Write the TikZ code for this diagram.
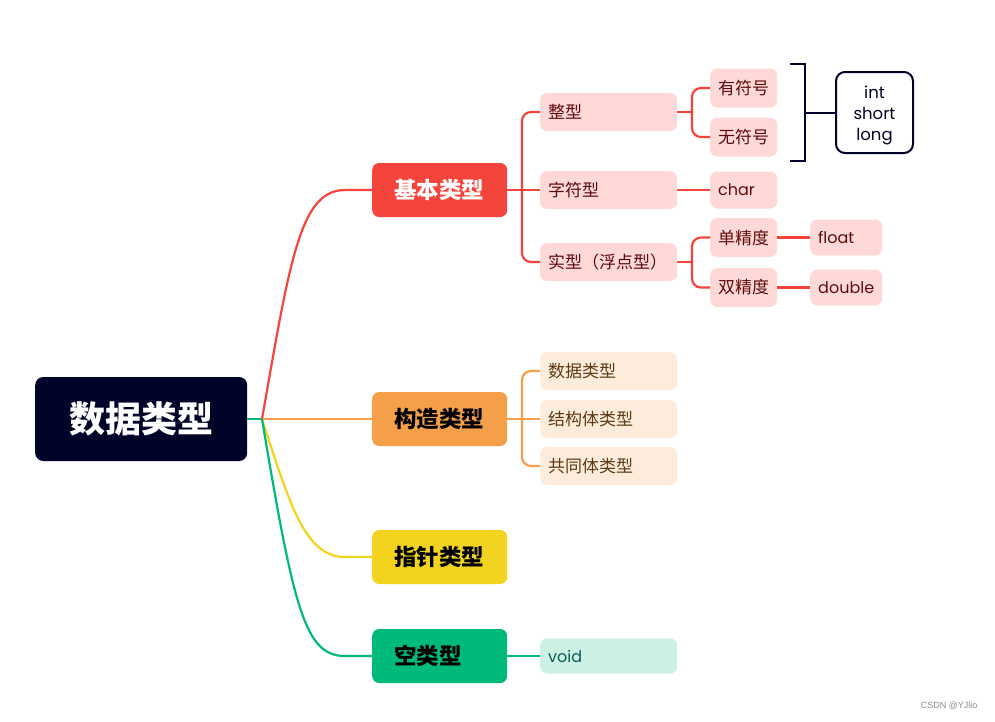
\documentclass[tikz,border=0pt]{standalone}
\usepackage{fontspec}
\setmainfont{Noto Sans CJK SC}
\newfontfamily\lat{Poppins}
\newfontfamily\wmfont{Liberation Sans}
\definecolor{navy}{HTML}{020328}
\definecolor{cred}{HTML}{F5443C}
\definecolor{corange}{HTML}{F59F4B}
\definecolor{cyellow}{HTML}{F2D31F}
\definecolor{cgreen}{HTML}{00BA7B}
\definecolor{fpink}{HTML}{FFD9D8}
\definecolor{fpeach}{HTML}{FDEBDC}
\definecolor{fmint}{HTML}{CCF1E4}
\definecolor{tred}{HTML}{5E0B0B}
\definecolor{tbrown}{HTML}{5C3A12}
\definecolor{tteal}{HTML}{0A5A55}
\tikzset{
  mainbox/.style={rounded corners=7pt, minimum height=54pt, text width=91pt, inner xsep=22pt, inner ysep=0pt, align=left, anchor=west, font=\fontsize{22.5}{26}\selectfont\bfseries},
  subbox/.style={rounded corners=7pt, minimum height=38pt, text width=121pt, inner xsep=8pt, inner ysep=0pt, align=left, anchor=west, font=\fontsize{17}{20}\selectfont},
  leafbox/.style={rounded corners=7pt, minimum height=39pt, text width=51pt, inner xsep=8pt, inner ysep=0pt, align=left, anchor=west, fill=fpink, text=tred, font=\fontsize{17}{20}\selectfont},
  latbox/.style={rounded corners=7pt, minimum height=36pt, text width=56pt, inner xsep=8pt, inner ysep=0pt, align=left, anchor=west, fill=fpink, text=tred, font=\lat\fontsize{16}{20}\selectfont},
  link/.style={line width=2.2pt},
}
\begin{document}
\begin{tikzpicture}[x=1pt,y=-1pt]
\useasboundingbox (0,0) rectangle (995,721);
% root
\node[rounded corners=8pt, fill=navy, text=white, minimum width=212pt, minimum height=84pt, anchor=west, font=\fontsize{36}{40}\selectfont\bfseries] (root) at (35,419) {数据类型};
% level 1
\node[mainbox, fill=cred, text=white] (b1) at (372,190) {基本类型};
\node[mainbox, fill=corange, text=black] (b2) at (372,419) {构造类型};
\node[mainbox, fill=cyellow, text=black] (b3) at (372,557) {指针类型};
\node[mainbox, fill=cgreen, text=black] (b4) at (372,656) {空类型};
% level 2
\node[subbox, fill=fpink, text=tred] (c11) at (540,112) {整型};
\node[subbox, fill=fpink, text=tred] (c12) at (540,190) {字符型};
\node[subbox, fill=fpink, text=tred] (c13) at (540,262) {实型（浮点型）};
\node[subbox, fill=fpeach, text=tbrown] (c21) at (540,371) {数据类型};
\node[subbox, fill=fpeach, text=tbrown] (c22) at (540,419) {结构体类型};
\node[subbox, fill=fpeach, text=tbrown] (c23) at (540,466) {共同体类型};
\node[subbox, fill=fmint, text=tteal, minimum height=35pt, font=\lat\fontsize{16}{20}\selectfont] (c41) at (540,656) {void};
% level 3
\node[leafbox] (d1) at (710,88) {有符号};
\node[leafbox] (d2) at (710,137) {无符号};
\node[leafbox, minimum height=37pt, font=\lat\fontsize{16}{20}\selectfont] (d3) at (710,190) {char};
\node[leafbox] (d4) at (710,237.5) {单精度};
\node[leafbox] (d5) at (710,287.5) {双精度};
\node[latbox] (e1) at (810,237.5) {float};
\node[latbox] (e2) at (810,287.5) {double};
% int box
\node[draw=navy, line width=2pt, rounded corners=9pt, fill=white, minimum width=77pt, minimum height=81pt, inner sep=0pt, font=\lat\fontsize{16.5}{21}\selectfont, text=navy] (ints) at (874.5,112.5) {\raisebox{-3pt}[\height][\depth]{\begin{tabular}{@{}c@{}}int\\short\\long\end{tabular}}};
% bracket
\coordinate (bt) at (790,64);
\coordinate (bb) at (790,161);
\coordinate (bm) at (805,112.5);
\draw[navy, line width=2pt] (bt) -- (805,64) -- (805,161) -- (bb);
\draw[navy, line width=2pt] (bm) -- (ints.west);
% root connectors
\coordinate (rj) at (262,419);
\draw[link, cgreen] (root.east) -- (rj);
\draw[link, corange] (rj) -- (b2.west);
\draw[link, cred] (rj) .. controls (290,260) and (300,190) .. (345,190) -- (b1.west);
\draw[link, cyellow] (rj) .. controls (290,505) and (305,557) .. (345,557) -- (b3.west);
\draw[link, cgreen] (rj) .. controls (294,610) and (305,656) .. (345,656) -- (b4.west);
% red subtree
\coordinate (j1) at (522,190);
\draw[link, cred] (b1.east) -- (j1);
\draw[link, cred, rounded corners=9pt] (j1) |- (c11.west);
\draw[link, cred, rounded corners=9pt] (j1) |- (c13.west);
\draw[link, cred] (j1) -- (c12.west);
\coordinate (k1) at (692,112);
\draw[link, cred] (c11.east) -- (k1);
\draw[link, cred, rounded corners=9pt] (k1) |- (d1.west);
\draw[link, cred, rounded corners=9pt] (k1) |- (d2.west);
\draw[link, cred] (c12.east) -- (d3.west);
\coordinate (k2) at (692,262);
\draw[link, cred] (c13.east) -- (k2);
\draw[link, cred, rounded corners=9pt] (k2) |- (d4.west);
\draw[link, cred, rounded corners=9pt] (k2) |- (d5.west);
\draw[link, cred] (d4.east) -- (e1.west);
\draw[link, cred] (d5.east) -- (e2.west);
% orange subtree
\coordinate (j2) at (522,419);
\draw[link, corange] (b2.east) -- (j2);
\draw[link, corange, rounded corners=9pt] (j2) |- (c21.west);
\draw[link, corange, rounded corners=9pt] (j2) |- (c23.west);
\draw[link, corange] (j2) -- (c22.west);
% green subtree
\draw[link, cgreen] (b4.east) -- (c41.west);
% watermark
\node[anchor=east, text=black!45, font=\wmfont\fontsize{9}{11}\selectfont] (wm) at (981,706) {CSDN @YJlio};
\end{tikzpicture}
\end{document}
